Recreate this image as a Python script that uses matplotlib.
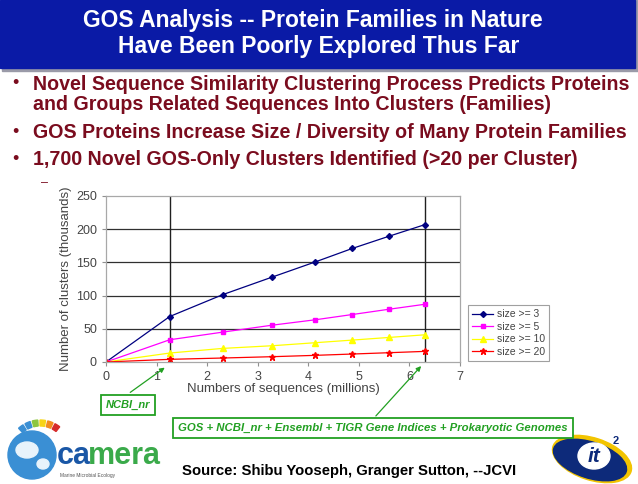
import matplotlib
matplotlib.use('Agg')
import matplotlib.pyplot as plt
from matplotlib.patches import Rectangle, Ellipse, Circle, Wedge, FancyArrowPatch

plt.rcParams['font.family'] = ['Liberation Sans', 'DejaVu Sans']

# data (millions of sequences vs thousands of clusters)
seqs = [0.0, 1.26, 2.31, 3.29, 4.13, 4.87, 5.60, 6.31]
size3 = [0, 68.5, 101.5, 128, 150.5, 171, 189.5, 207]
size5 = [0, 33.5, 45, 55.5, 63.5, 71.5, 79.5, 87]
size10 = [0, 13.5, 20.5, 24.5, 29, 33, 37, 41]
size20 = [0, 4, 6, 8, 10, 12, 14, 16]
labels = ['size >= 3', 'size >= 5', 'size >= 10', 'size >= 20']

title = ['GOS Analysis -- Protein Families in Nature',
         'Have Been Poorly Explored Thus Far']
bullets = [['Novel Sequence Similarity Clustering Process Predicts Proteins',
            'and Groups Related Sequences Into Clusters (Families)'],
           ['GOS Proteins Increase Size / Diversity of Many Protein Families'],
           ['1,700 Novel GOS-Only Clusters Identified (>20 per Cluster)']]

W, H = 638, 484
fig = plt.figure(figsize=(W / 100, H / 100), dpi=100)


def fx(x):
    return x / W


def fy(y):
    return 1 - y / H


# title banner
fig.patches.append(Rectangle((fx(2), fy(71)), fx(636), 71 / H, transform=fig.transFigure,
                             color='#9a9aa8', zorder=0))
fig.patches.append(Rectangle((0, fy(68)), fx(635), 68 / H, transform=fig.transFigure,
                             color='#0a1aa6', zorder=1))
fig.text(fx(313), fy(20), title[0], color='white', fontsize=16.5, fontweight='bold',
         ha='center', va='center')
fig.text(fx(319), fy(47), title[1], color='white', fontsize=16.5, fontweight='bold',
         ha='center', va='center')

# bullets
red = '#7a0c1e'
bullet_y = [84, 133, 159]
for y, lines in zip(bullet_y, bullets):
    fig.text(fx(12), fy(y), '\u2022', color=red, fontsize=13, ha='left', va='center')
    for i, line in enumerate(lines):
        fig.text(fx(33), fy(y + 21 * i), line, color=red, fontsize=14.1, fontweight='bold',
                 ha='left', va='center')
fig.text(fx(41), fy(183), '\u2013', color=red, fontsize=9, ha='left', va='center')

# chart
ax = fig.add_axes([fx(106), fy(362), fx(460 - 106), (362 - 196) / H])
ax.plot(seqs, size3, color='#000080', marker='D', ms=3, lw=0.9, label=labels[0])
ax.plot(seqs, size5, color='#ff00ff', marker='s', ms=3.5, lw=0.9, label=labels[1])
ax.plot(seqs, size10, color='#ffff00', marker='^', ms=4, lw=0.9, label=labels[2])
ax.plot(seqs, size20, color='#ff0000', marker='*', ms=4.5, lw=0.9, label=labels[3])
ax.set_xlim(0, 7)
ax.set_ylim(0, 250)
ax.set_xticks(range(8))
ax.set_yticks(range(0, 251, 50))
for yv in range(50, 250, 50):
    ax.axhline(yv, color='#303030', lw=0.9, zorder=0)
ax.axvline(seqs[1], color='#202020', lw=1.0, zorder=0)
ax.axvline(seqs[-1], color='#202020', lw=1.0, zorder=0)
for s in ax.spines.values():
    s.set_color('#a8a8a8')
    s.set_linewidth(0.9)
ax.tick_params(colors='#909090', labelcolor='#444444', labelsize=9, length=3)
ax.set_xlabel('Numbers of sequences (millions)', fontsize=9.5, color='#444444', labelpad=0)
ax.set_ylabel('Number of clusters (thousands)', fontsize=9.5, color='#444444', labelpad=3)
leg = ax.legend(loc='upper left', fontsize=7.5, frameon=True, fancybox=False, borderpad=0.4,
                labelspacing=0.25, handlelength=2.0, handletextpad=0.4, borderaxespad=0)
leg.set_bbox_to_anchor((fx(468), fy(305)), transform=fig.transFigure)
leg.get_frame().set_edgecolor('#888888')
leg.get_frame().set_linewidth(0.8)
for t in leg.get_texts():
    t.set_color('#444444')

# annotation boxes and arrows
green = '#22a022'
fig.text(fx(128), fy(405), 'NCBI_nr', color=green, fontsize=8, fontweight='bold',
         style='italic', ha='center', va='center',
         bbox=dict(boxstyle='square,pad=0.45', fc='white', ec=green, lw=1.3))
fig.text(fx(373), fy(428), 'GOS + NCBI_nr + Ensembl + TIGR Gene Indices + Prokaryotic Genomes',
         color=green, fontsize=8.2, fontweight='bold', style='italic', ha='center', va='center',
         bbox=dict(boxstyle='square,pad=0.45', fc='white', ec=green, lw=1.3))
for (x0, y0), (x1, y1) in [((128, 394), (167, 366)), ((374, 418), (423, 364))]:
    fig.patches.append(FancyArrowPatch((fx(x0), fy(y0)), (fx(x1), fy(y1)), transform=fig.transFigure,
                                       arrowstyle='-|>', mutation_scale=7, color=green, lw=0.9))

# source
fig.text(fx(349), fy(471), 'Source: Shibu Yooseph, Granger Sutton, --JCVI', color='black',
         fontsize=10.7, fontweight='bold', ha='center', va='center')

# camera logo (rough)
lax = fig.add_axes([0, 0, 1, 1], facecolor='none')
lax.set_xlim(0, W)
lax.set_ylim(H, 0)
lax.axis('off')
lax.add_patch(Circle((32, 455), 24, color='#3a8fd4'))
lax.add_patch(Ellipse((27, 450), 22, 16, color='#e8f3fb'))
lax.add_patch(Ellipse((43, 464), 12, 10, color='#e8f3fb'))
for i, c in enumerate(['#3a8fd4', '#3a8fd4', '#8cc63f', '#f7d417', '#f28c1e', '#d62b2b']):
    lax.add_patch(Wedge((40, 452), 32, 228 + i * 14, 238 + i * 14, width=6, color=c))
lax.text(57, 456, 'ca', color='#1a57a6', fontsize=22, fontweight='bold', va='center', ha='left')
lax.text(88, 456, 'mera', color='#3aaa4a', fontsize=22, fontweight='bold', va='center', ha='left')
lax.text(60, 476, 'Marine Microbial Ecology', color='#555555', fontsize=3.5, va='center')

# it2 logo (rough)
lax.add_patch(Ellipse((592, 459), 82, 42, angle=18, color='#f2c400'))
lax.add_patch(Ellipse((590, 460), 76, 36, angle=18, color='#0d2a7a'))
lax.add_patch(Ellipse((594, 456), 32, 26, color='white'))
lax.text(594, 457, 'it', color='#0d2a7a', fontsize=15, fontweight='bold', style='italic',
         ha='center', va='center')
lax.text(616, 441, '2', color='#0d2a7a', fontsize=8, fontweight='bold', ha='center', va='center',
         zorder=5)

fig.savefig('out.png', dpi=100)
